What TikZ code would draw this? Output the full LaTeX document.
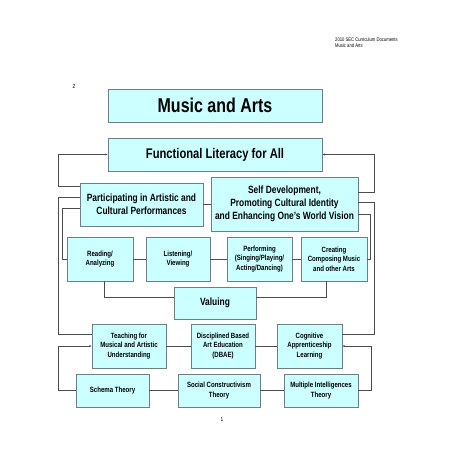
\documentclass[tikz,border=0pt]{standalone}
\usepackage{fontspec}
\setmainfont{Liberation Sans}[FakeStretch=0.8]
\usepackage{tikz}
\usetikzlibrary{calc,arrows.meta,positioning}
\definecolor{boxfill}{HTML}{CCFFFF}
\definecolor{boxline}{HTML}{6E7F80}
\newcommand{\fsz}[2]{\fontsize{#1}{#2}\selectfont}

\begin{document}
\begin{tikzpicture}[
    x=1pt, y=-1pt,
    box/.style={rectangle, draw=boxline, line width=0.8pt, fill=boxfill, align=center, inner sep=1pt},
    big/.style={box, font=\fsz{20}{22}\bfseries},
    mid/.style={box, font=\fsz{14}{16}\bfseries},
    wide/.style={box, font=\fsz{10.5}{13.3}\bfseries},
    small/.style={box, font=\fsz{7.6}{9.3}\bfseries},
    link/.style={draw=black!70, line width=0.5pt},
    arrow/.style={link, -{Stealth[length=2.5pt, width=2pt]}}
]
    \useasboundingbox (0,0) rectangle (452,452);
    % page texts
    \node[anchor=north west, align=left, inner sep=0pt, font=\fsz{5.2}{6}] (head) at (335,38) {2010 SEC Curriculum Documents\\Music and Arts};
    \node[font=\fsz{6}{7}] (pageA) at (74,86) {2};
    \node[font=\fsz{6}{7}] (pageB) at (222,419) {1};
    % boxes
    \node[big, minimum width=214pt, minimum height=33pt] (title) at (215,105.5) {Music and Arts};
    \node[mid, minimum width=214pt, minimum height=33pt] (fl) at (215,154.5) {Functional Literacy for All};
    \node[wide, minimum width=123pt, minimum height=43pt] (part) at (141.5,204.5) {Participating in Artistic and\\Cultural Performances};
    \node[wide, minimum width=147pt, minimum height=54pt] (self) at (284.5,204) {Self Development,\\Promoting Cultural Identity\\and Enhancing One's World Vision};
    \node[small, minimum width=66pt, minimum height=44pt] (read) at (100,259) {Reading/\\Analyzing};
    \node[small, minimum width=64pt, minimum height=44pt] (listen) at (178,259) {Listening/\\Viewing};
    \node[small, minimum width=65pt, minimum height=44pt] (perf) at (259.5,259) {Performing\\(Singing/Playing/\\Acting/Dancing)};
    \node[small, minimum width=66pt, minimum height=44pt] (create) at (334,259) {Creating\\Composing Music\\and other Arts};
    \node[wide, minimum width=82pt, minimum height=32pt] (val) at (215,303) {Valuing};
    \node[small, minimum width=74pt, minimum height=44pt] (teach) at (129,346) {Teaching for\\Musical and Artistic\\Understanding};
    \node[small, minimum width=64pt, minimum height=44pt] (dbae) at (223,346) {Disciplined Based\\Art Education\\(DBAE)};
    \node[small, minimum width=65pt, minimum height=44pt] (cog) at (309.5,346) {Cognitive\\Apprenticeship\\Learning};
    \node[small, minimum width=73pt, minimum height=33pt] (schema) at (112.5,390.5) {Schema Theory};
    \node[small, minimum width=82pt, minimum height=33pt] (social) at (219,390.5) {Social Constructivism\\Theory};
    \node[small, minimum width=74pt, minimum height=33pt] (mi) at (321,390.5) {Multiple Intelligences\\Theory};
    % left side links
    \draw[arrow] (part.north west) ++(0,4) -- ++(-21,0) |- (fl.west);
    \draw[link] (part.north west) ++(0,15) -- ++(-21,0) |- ([yshift=-11pt]teach.north west);
    \draw[link] (part.north west) ++(0,26) -- ++(-17,0) |- (read.west);
    \draw[arrow] (schema.west) -- ++(-17,0) |- (teach.west);
    % right side links
    \draw[arrow] (self.north east) ++(0,16) -- ++(16,0) |- (fl.east);
    \draw[link] (self.north east) ++(0,26) -- ++(16,0) |- ([yshift=-11pt]cog.north east);
    \draw[link] (self.north east) ++(0,38) -- ++(12,0) |- (create.east);
    \draw[arrow] (mi.east) -- ++(13,0) |- (cog.east);
    % to valuing
    \draw[link] (read.south) ++(4,0) |- ([yshift=6pt]val.west);
    \draw[link] (create.south) ++(-8,0) |- ([yshift=6pt]val.east);
    % rows
    \draw[link] (part.east) -- (part.east -| self.west);
    \draw[link] (read) -- (listen);
    \draw[link] (listen) -- (perf);
    \draw[link] (perf) -- (create);
    \draw[link] (teach) -- (dbae);
    \draw[link] (dbae) -- (cog);
    \draw[link] (schema) -- (social);
    \draw[link] (social) -- (mi);
\end{tikzpicture}
\end{document}
